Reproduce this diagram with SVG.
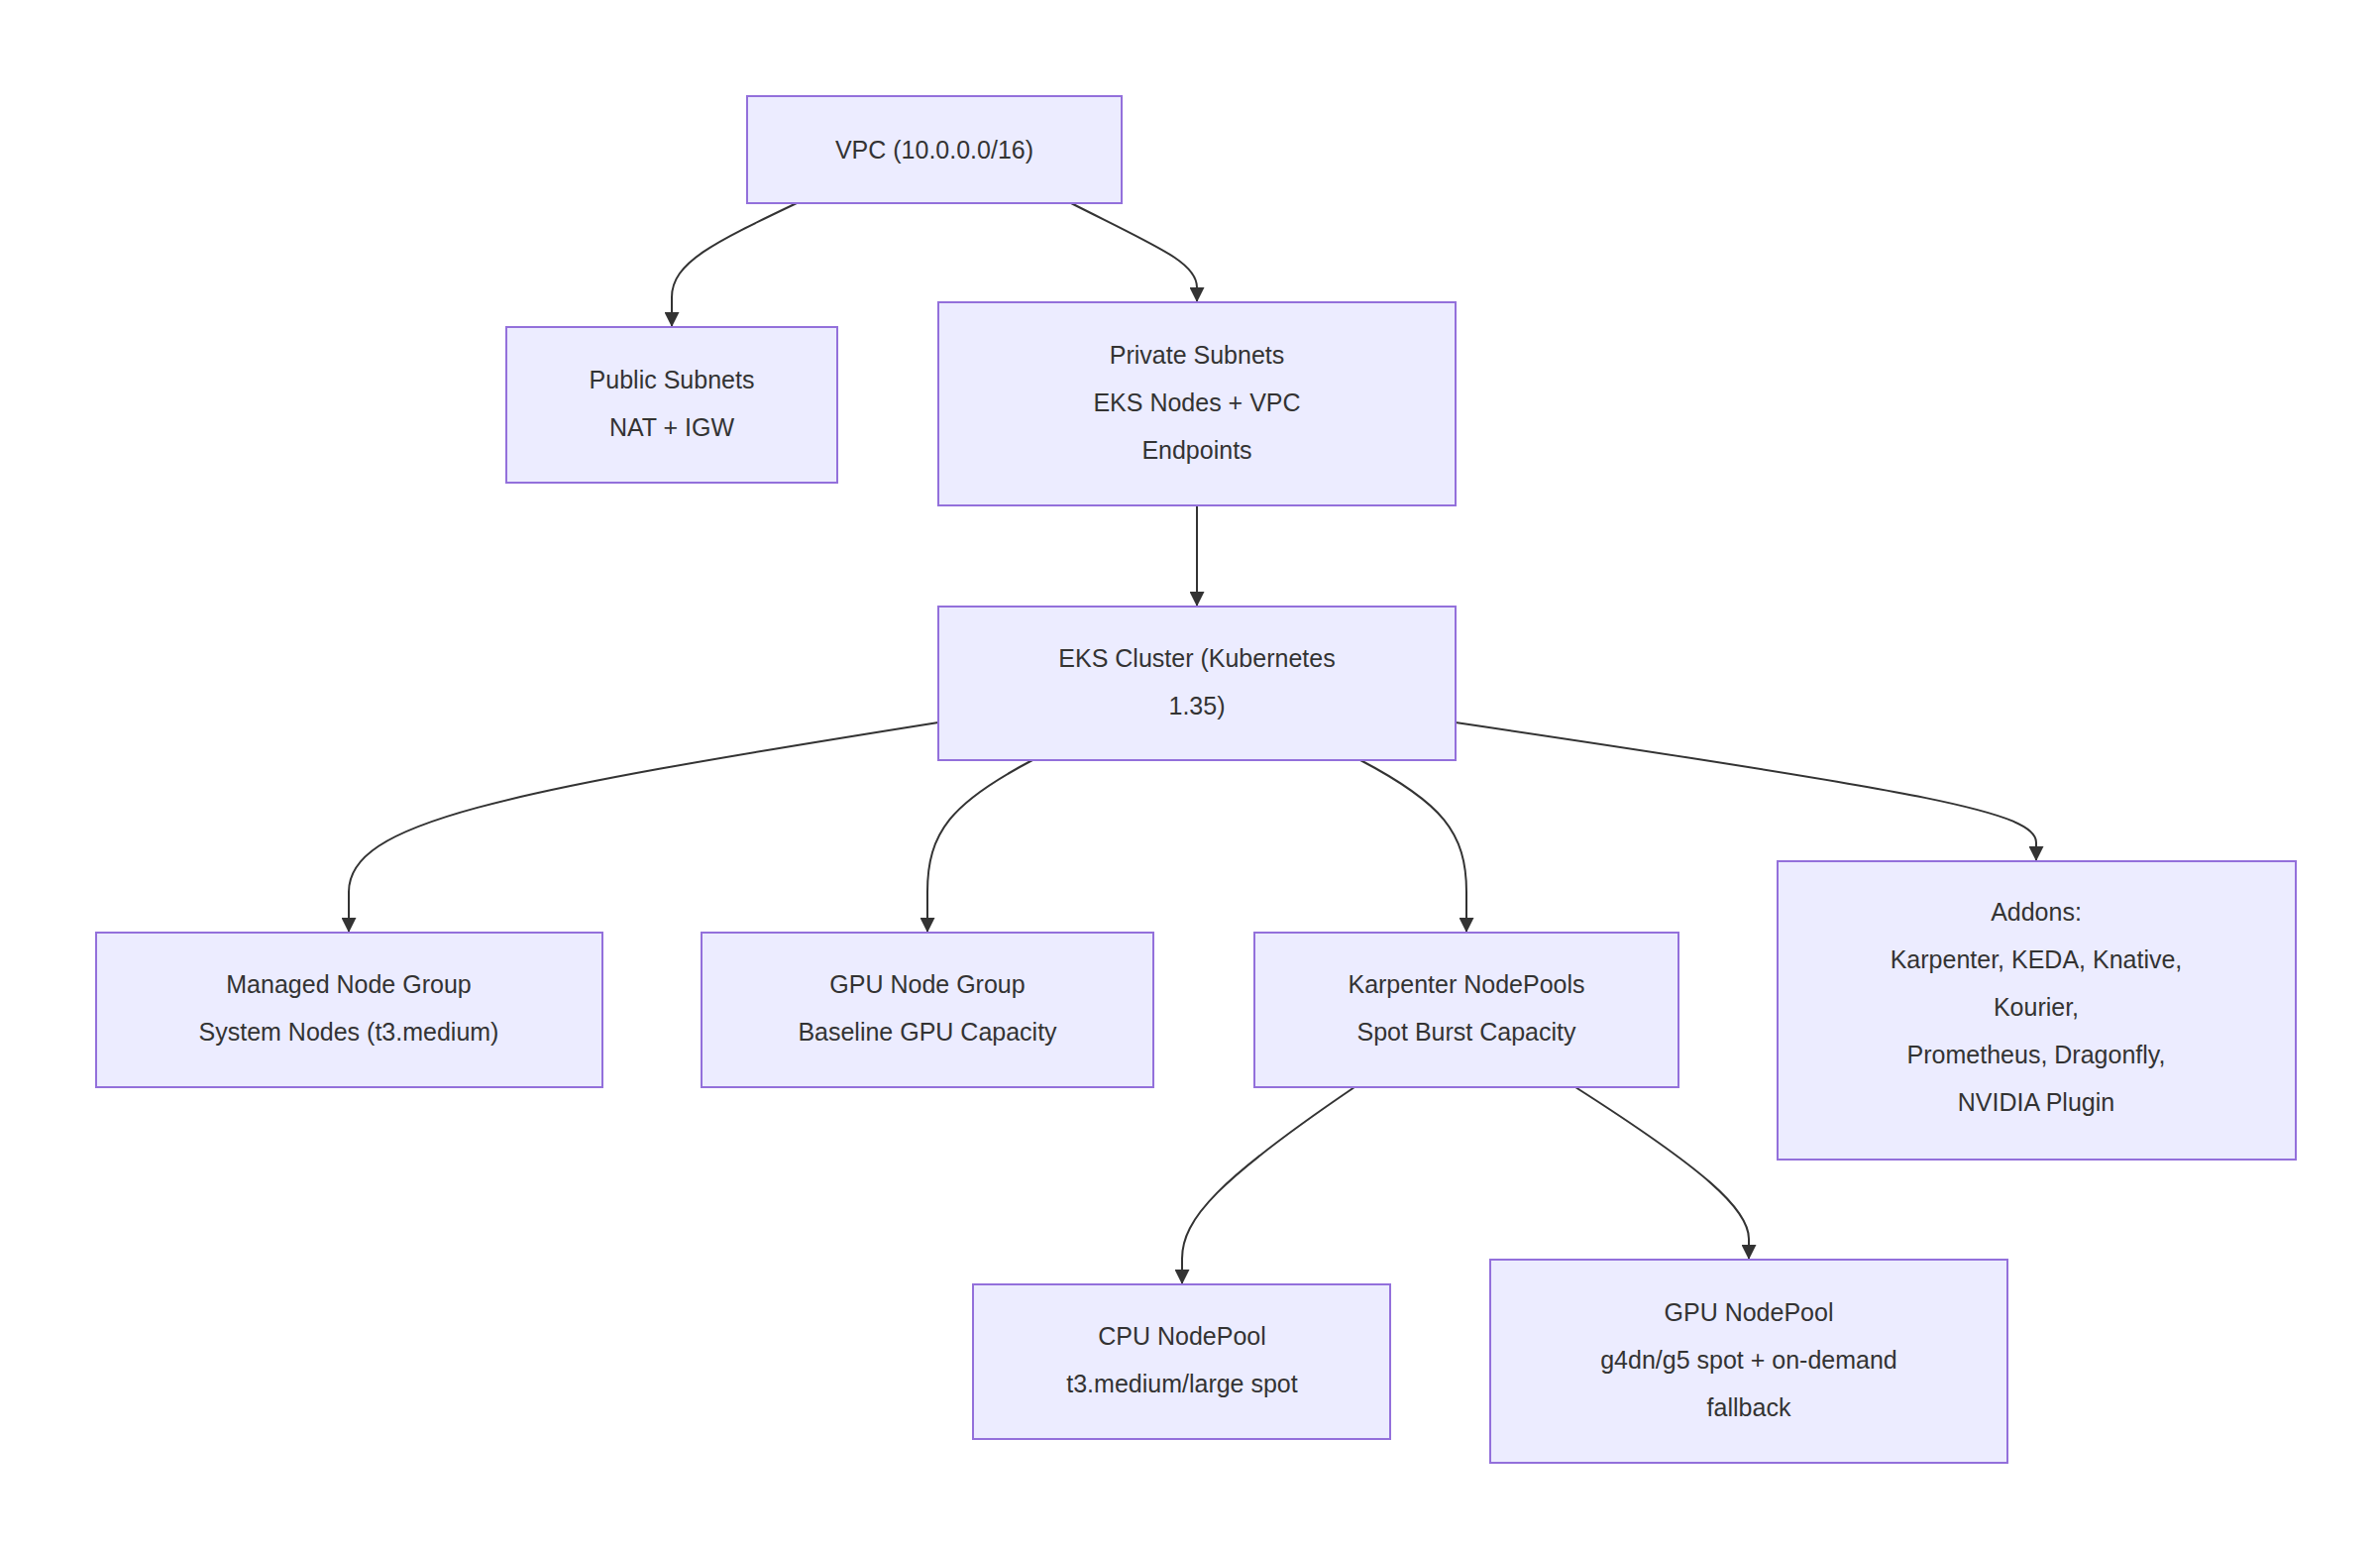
<svg xmlns="http://www.w3.org/2000/svg" width="2402" height="1564" viewBox="0 0 2402 1564">
<style>
.n rect{fill:#ECECFF;stroke:#9370DB;stroke-width:2}
.n text{font-family:"Liberation Sans",Arial,sans-serif;font-size:25px;fill:#333;text-anchor:middle}
.e path{fill:none;stroke:#333;stroke-width:2}
</style>
<defs><marker id="a" viewBox="0 0 10 10" refX="10" refY="5" markerWidth="15" markerHeight="15" markerUnits="userSpaceOnUse" orient="auto"><path d="M0,0L10,5L0,10z" fill="#333"/></marker></defs>
<rect width="2402" height="1564" fill="#fff"/>
<g class="e">
<path marker-end="url(#a)" d="M804,205 C720,245 678,265 678,300 L678,330"/>
<path marker-end="url(#a)" d="M1081,205 C1170,250 1208,265 1208,290 L1208,305"/>
<path marker-end="url(#a)" d="M1208,510 L1208,612"/>
<path marker-end="url(#a)" d="M947,729 C500,800 352,830 352,900 L352,941"/>
<path marker-end="url(#a)" d="M1042,767 C960,810 936,840 936,900 L936,941"/>
<path marker-end="url(#a)" d="M1373,767 C1455,810 1480,840 1480,900 L1480,941"/>
<path marker-end="url(#a)" d="M1469,729 C1950,800 2055,820 2055,850 L2055,869"/>
<path marker-end="url(#a)" d="M1367,1097 C1230,1190 1193,1230 1193,1270 L1193,1296"/>
<path marker-end="url(#a)" d="M1590,1097 C1720,1180 1765,1220 1765,1250 L1765,1271"/>
</g>
<g id="vpc" class="n"><rect x="754" y="97" width="378" height="108"/><text x="943" y="160">VPC (10.0.0.0/16)</text></g>
<g id="public" class="n"><rect x="511" y="330" width="334" height="157"/><text x="678" y="392">Public Subnets</text><text x="678" y="440">NAT + IGW</text></g>
<g id="private" class="n"><rect x="947" y="305" width="522" height="205"/><text x="1208" y="367">Private Subnets</text><text x="1208" y="415">EKS Nodes + VPC</text><text x="1208" y="463">Endpoints</text></g>
<g id="eks" class="n"><rect x="947" y="612" width="522" height="155"/><text x="1208" y="673">EKS Cluster (Kubernetes</text><text x="1208" y="721">1.35)</text></g>
<g id="managed" class="n"><rect x="97" y="941" width="511" height="156"/><text x="352" y="1002">Managed Node Group</text><text x="352" y="1050">System Nodes (t3.medium)</text></g>
<g id="gpung" class="n"><rect x="708" y="941" width="456" height="156"/><text x="936" y="1002">GPU Node Group</text><text x="936" y="1050">Baseline GPU Capacity</text></g>
<g id="karpenter" class="n"><rect x="1266" y="941" width="428" height="156"/><text x="1480" y="1002">Karpenter NodePools</text><text x="1480" y="1050">Spot Burst Capacity</text></g>
<g id="addons" class="n"><rect x="1794" y="869" width="523" height="301"/><text x="2055" y="929">Addons:</text><text x="2055" y="977">Karpenter, KEDA, Knative,</text><text x="2055" y="1025">Kourier,</text><text x="2055" y="1073">Prometheus, Dragonfly,</text><text x="2055" y="1121">NVIDIA Plugin</text></g>
<g id="cpunp" class="n"><rect x="982" y="1296" width="421" height="156"/><text x="1193" y="1357">CPU NodePool</text><text x="1193" y="1405">t3.medium/large spot</text></g>
<g id="gpunp" class="n"><rect x="1504" y="1271" width="522" height="205"/><text x="1765" y="1333">GPU NodePool</text><text x="1765" y="1381">g4dn/g5 spot + on-demand</text><text x="1765" y="1429">fallback</text></g>
</svg>
